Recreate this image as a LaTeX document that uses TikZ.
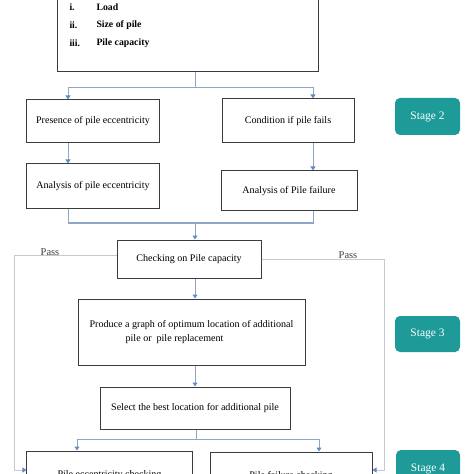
\documentclass[tikz,border=0pt]{standalone}
\usepackage{fontspec}
\setmainfont{Liberation Serif}
\usetikzlibrary{arrows.meta}
\definecolor{stagecol}{HTML}{1E9B98}
\definecolor{linkcol}{HTML}{8EA6C6}
\definecolor{tipcol}{HTML}{5F8BC2}
\definecolor{passcol}{HTML}{C4CAD4}
\definecolor{boxcol}{HTML}{3C3C3C}
\tikzset{
  stepbox/.style={draw=boxcol,line width=1bp,fill=white,align=center,inner sep=2bp,
    font=\fontsize{10.1}{12.5}\selectfont},
  stagebox/.style={fill=stagecol,rounded corners=5bp,text=white,minimum width=65bp,
    minimum height=37bp,font=\fontsize{11.5}{13}\selectfont},
  link/.style={draw=linkcol,line width=1bp},
  linkarrow/.style={link,-{Triangle[width=5bp,length=4bp,color=tipcol]}},
  pass/.style={draw=passcol,line width=1bp,-{Triangle[width=5bp,length=4bp,color=tipcol]}},
  passlabel/.style={text=black!75,font=\fontsize{10.5}{12}\selectfont,inner sep=0.5bp},
}
\begin{document}
\begin{tikzpicture}[x=1bp,y=-1bp]
    \useasboundingbox (0,0) rectangle (474,474);
    % columns of the connectors
    \coordinate (colL) at (68,0);
    \coordinate (colM) at (195,0);
    \coordinate (colR) at (313,0);
    % stage 1
    \node[stepbox,minimum width=260bp,minimum height=96bp] (inputs) at (188,24) {};
    \foreach \num/\txt [count=\i] in {i./Load, ii./Size of pile, iii./Pile capacity}{
        \node[anchor=west,font=\fontsize{9.8}{11}\selectfont\bfseries] (num\i) at (66,-11+18*\i) {\num};
        \node[anchor=west,font=\fontsize{9.8}{11}\selectfont\bfseries] (item\i) at (93,-11+18*\i) {\txt};
    }
    % stage 2
    \node[stepbox,minimum width=132bp,minimum height=43bp] (pres) at (93,121.5) {\raisebox{-3bp}{Presence of pile eccentricity}};
    \node[stepbox,minimum width=132bp,minimum height=44bp] (cond) at (288,121) {\raisebox{-3bp}{Condition if pile fails}};
    \node[stepbox,minimum width=132bp,minimum height=45bp] (anecc) at (93,186.5) {Analysis of pile eccentricity};
    \node[stepbox,minimum width=136bp,minimum height=40bp] (anfail) at (289,191) {Analysis of Pile failure};
    \node[stagebox] (stage2) at (427.5,116.5) {Stage 2};
    % stage 3
    \node[stepbox,minimum width=144bp,minimum height=38bp] (check) at (189,259) {\raisebox{-3bp}{Checking on Pile capacity}};
    \node[stepbox,minimum width=227bp,minimum height=66bp,align=left] (graph) at (191.5,332)
        {Produce a graph of optimum location of additional\\[2bp]\hspace*{36bp}pile or\ \ pile replacement};
    \node[stepbox,minimum width=190bp,minimum height=42bp] (select) at (195,408) {Select the best location for additional pile};
    \node[stagebox,minimum height=36bp] (stage3) at (427.5,334) {Stage 3};
    % stage 4
    \node[stepbox,minimum width=165bp,minimum height=49bp] (eccchk) at (109.5,475.5) {Pile eccentricity checking};
    \node[stepbox,minimum width=162bp,minimum height=48bp] (failchk) at (291,476) {Pile failure checking};
    \node[stagebox,minimum width=64bp] (stage4) at (428,468.5) {Stage 4};

    % connectors
    \coordinate (split1) at (195,88);
    \draw[link] (inputs.south -| colM) -- (split1);
    \draw[linkarrow] (split1) -| (pres.north -| colL);
    \draw[linkarrow] (split1) -| (cond.north -| colR);
    \draw[linkarrow] (pres.south -| colL) -- (anecc.north -| colL);
    \draw[linkarrow] (cond.south -| colR) -- (anfail.north -| colR);
    \coordinate (join2) at (195,223);
    \draw[link] (anecc.south -| colL) |- (join2) -| (anfail.south -| colR);
    \draw[linkarrow] (join2) -- (check.north -| colM);
    \draw[linkarrow] (check.south -| colM) -- (graph.north -| colM);
    \draw[linkarrow] (graph.south -| colM) -- (select.north -| colM);
    \coordinate (split3) at (196,439);
    \coordinate (colLL) at (77,0);
    \coordinate (colRR) at (319,0);
    \draw[link] (select.south -| split3) -- (split3);
    \draw[linkarrow] (split3) -| (eccchk.north -| colLL);
    \draw[linkarrow] (split3) -| (failchk.north -| colRR);

    % pass lines
    \coordinate (passLtop) at (14,255);
    \coordinate (passLbot) at (14,470);
    \coordinate (passRtop) at (384,259);
    \coordinate (passRbot) at (384,470);
    \draw[pass] (check.west |- passLtop) -- (passLtop) -- (passLbot) -- (eccchk.west |- passLbot);
    \draw[pass] (check.east |- passRtop) -- (passRtop) -- (passRbot) -- (failchk.east |- passRbot);
    \node[passlabel,anchor=south] (passL) at (50,256) {Pass};
    \node[passlabel,anchor=south] (passR) at (348,259) {Pass};
\end{tikzpicture}
\end{document}
